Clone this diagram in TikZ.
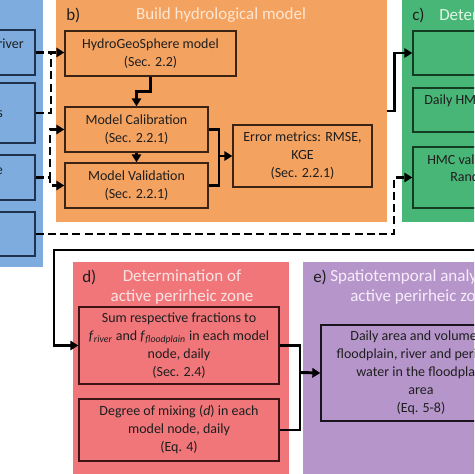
\documentclass[tikz,border=0pt]{standalone}
\usepackage{fontspec}
\setmainfont{Carlito}
\usetikzlibrary{arrows.meta}
\definecolor{cblue}{RGB}{126,172,222}
\definecolor{cbluedk}{RGB}{30,50,80}
\definecolor{corange}{RGB}{244,162,96}
\definecolor{corangedk}{RGB}{60,36,20}
\definecolor{cgreen}{RGB}{72,182,118}
\definecolor{cgreendk}{RGB}{20,60,35}
\definecolor{cred}{RGB}{240,118,122}
\definecolor{creddk}{RGB}{60,20,22}
\definecolor{cpurple}{RGB}{182,150,202}
\definecolor{cpurpledk}{RGB}{25,20,30}
\definecolor{ctxt}{RGB}{30,30,30}
\definecolor{tor}{RGB}{253,230,210}
\definecolor{tgr}{RGB}{222,246,228}
\definecolor{tre}{RGB}{253,226,226}
\definecolor{tpu}{RGB}{246,236,251}
\begin{document}
\begin{tikzpicture}[x=0.75pt,y=-0.75pt,
  panel/.style 2 args={draw=none,inner sep=0pt,minimum width={#1*0.75pt},minimum height={#2*0.75pt}},
  box/.style={draw=#1,line width=1pt,inner sep=0pt,align=center,text=ctxt,
    font=\fontsize{10.5pt}{13.5pt}\selectfont},
  sz/.style 2 args={minimum width={#1*0.75pt},minimum height={#2*0.75pt}},
  txt/.style={inner sep=0pt,text=ctxt,font=\fontsize{10.5pt}{13.5pt}\selectfont},
  ttl/.style={inner sep=0pt,align=center,font=\fontsize{12.75pt}{15pt}\selectfont},
  scon/.style={line width=2.2pt,draw=black},
  dcon/.style={line width=2.2pt,draw=black,dash pattern=on 6pt off 3.2pt},
  arr/.style={-{Triangle[length=6pt,width=7pt]}}
]
\useasboundingbox (0,0) rectangle (474,474);
\clip (0,0) rectangle (474,474);
\fill[white] (0,0) rectangle (474,474);

% panels
\node[panel={243}{267},fill=cblue] (pb) at (-78.5,133.5) {};
\node[panel={331}{222},fill=corange] (po) at (221.5,111) {};
\node[panel={298}{222},fill=cgreen] (pg) at (551,111) {};
\node[panel={216}{228},fill=cred] (pr) at (181,376) {};
\node[panel={397}{228},fill=cpurple] (pp) at (501.5,376) {};

% a) blue boxes
\node[box=cbluedk,fill=cblue,sz={135}{45}] (b1) at (-32.5,52.5) {};
\node[box=cbluedk,fill=cblue,sz={135}{60}] (b2) at (-32.5,113) {};
\node[box=cbluedk,fill=cblue,sz={135}{45}] (b3) at (-32.5,177.5) {};
\node[box=cbluedk,fill=cblue,sz={135}{44}] (b4) at (-32.5,234) {};
\node[txt,anchor=east] (tb1) at (24,44) {river};
\node[txt,anchor=east] (tb2) at (3,114) {s};
\node[txt,anchor=east] (tb3) at (3,171) {e};

% b) orange
\node[txt,anchor=west,font=\fontsize{12.75pt}{15pt}\selectfont] (lb) at (66,15) {b)};
\node[ttl,text=tor] (tto) at (221,15) {Build hydrological model};
\node[box=corangedk,sz={171}{45}] (hgs) at (150.5,53.5) {HydroGeoSphere model\\(Sec. 2.2)};
\node[box=corangedk,sz={143}{45}] (cal) at (136.5,129.5) {Model Calibration\\(Sec. 2.2.1)};
\node[box=corangedk,sz={143}{45}] (val) at (136.5,185.5) {Model Validation\\(Sec. 2.2.1)};
\node[box=corangedk,sz={139}{62}] (err) at (302.5,156) {Error metrics: RMSE,\\KGE\\(Sec. 2.2.1)};

% c) green
\node[txt,anchor=west,font=\fontsize{12.75pt}{15pt}\selectfont] (lc) at (412,15) {c)};
\node[ttl,text=tgr,anchor=west] (ttg) at (439,15) {Determination};
\node[box=cgreendk,sz={207}{44}] (g1) at (516.5,53) {};
\node[box=cgreendk,sz={207}{44}] (g2) at (516.5,110) {};
\node[box=cgreendk,sz={207}{61}] (g3) at (516.5,177.5) {};
\node[txt,anchor=west] (tg2) at (424,101) {Daily HMC};
\node[txt,anchor=west] (tg3a) at (427,160) {HMC values};
\node[txt,anchor=west] (tg3b) at (450,177) {Random};

% d) red
\node[txt,anchor=west,font=\fontsize{12.75pt}{15pt}\selectfont] (ld) at (82,277) {d)};
\node[ttl,text=tre] (ttr) at (182,287) {Determination of\\active perirheic zone};
\node[box=creddk,sz={200}{77}] (r1) at (179,345.5) {Sum respective fractions to\\\textit{f}\textsubscript{\textit{river}} and \textit{f}\textsubscript{\textit{floodplain}} in each model\\node, daily\\(Sec. 2.4)};
\node[box=creddk,sz={200}{62}] (r2) at (179,430) {Degree of mixing (\textit{d}) in each\\model node, daily\\(Eq. 4)};

% e) purple
\node[txt,anchor=west,font=\fontsize{12.75pt}{15pt}\selectfont] (le) at (313,277) {e)};
\node[ttl,text=tpu,anchor=west] (ttp1) at (330,277) {Spatiotemporal analysis of};
\node[ttl,text=tpu,anchor=west] (ttp2) at (350,297) {active perirheic zone};
\node[box=cpurpledk,sz={200}{96}] (p1) at (421,373) {Daily area and volume of\\floodplain, river and perirheic\\water in the floodplain\\area\\(Eq. 5-8)};

% dashed connectors
\coordinate (jA) at (51,0);
\coordinate (jB) at (50,0);
\coordinate (jC) at (394,0);
\draw[dcon,arr] (b1.east) -- (b1.east -| hgs.west);
\draw[dcon] (b2.east) -| (jA |- b1.east);
\draw[dcon,arr] (b3.east) -| (jB |- cal.west) -- (cal.west);
\draw[dcon,arr] (b3.east) -| (jB |- val.west) -- (val.west);
\draw[dcon,arr] (b4.east) -| (jC |- g3.west) -- (g3.west);

% solid connectors
\draw[scon,arr] (hgs.south) -- ++(0,15) -| (cal.north);
\draw[scon,arr] (cal.south) -- (val.north);
\coordinate (k1) at (219,156);
\draw[scon] (cal.east) -| (k1) |- (val.east);
\draw[scon,arr] (k1) -- (err.west);
\draw[scon,arr] (po.east) -- ++(7,0) |- (g1.west);
\coordinate (cf) at (480,250);
\coordinate (c2) at (54,250);
\draw[scon,arr] (cf) -- (c2) |- (r1.west);
\coordinate (k2) at (300,372.5);
\draw[scon] (r1.east) -| (k2) |- (r2.east);
\draw[scon,arr] (k2) -- (p1.west);
\end{tikzpicture}
\end{document}
